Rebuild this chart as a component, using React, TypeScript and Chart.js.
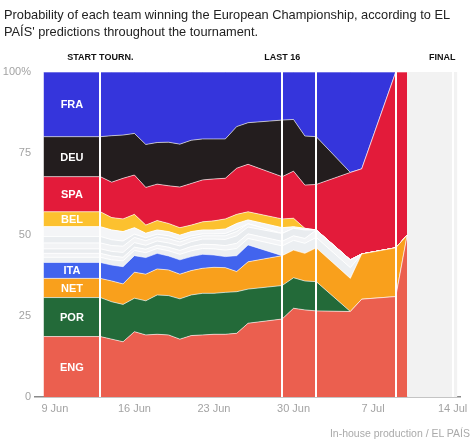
import { useEffect, useRef } from "react";
import { Chart, registerables } from "chart.js";

Chart.register(...registerables);

const FONT = '"Liberation Sans", Arial, sans-serif';

// Days counted from 9 June 2024 (day 0); the first point opens the pre-tournament block
const days = [-1, 4, 5, 6, 7, 8, 9, 10, 11, 12, 13, 14, 15, 16, 17, 20, 21, 22, 23, 26, 27, 30, 31];

const tickDays = [0, 7, 14, 21, 28, 35];
const tickLabels = ["9 Jun", "16 Jun", "23 Jun", "30 Jun", "7 Jul", "14 Jul"];

// Stage boundaries and their captions
const stageDays = [4, 20, 23, 30, 35];
const stageLabelDays = [4, 20, 35];
const stageLabels = ["START TOURN.", "LAST 16", "FINAL"];
const pendingDays = [31, 35.4];

// Probability of winning the tournament (%), one value per entry of `days`
const eng = [18.6, 18.6, 17.8, 17.0, 20.1, 19.1, 19.3, 19.1, 17.8, 18.9, 19.1, 19.3, 19.3, 19.6, 22.7, 24.0, 27.3, 26.8, 26.5, 26.3, 30.1, 30.9, 49.8];
const por = [12.0, 12.0, 11.5, 11.5, 10.3, 10.5, 12.1, 12.1, 12.4, 12.5, 12.8, 12.6, 12.9, 12.8, 10.5, 10.3, 9.4, 8.9, 9.0, 0, 0, 0, 0];
const net = [5.9, 5.9, 6.4, 6.3, 8.0, 8.2, 8.0, 7.9, 7.6, 7.5, 7.7, 8.0, 7.6, 6.2, 8.4, 9.2, 8.5, 8.5, 10.4, 10.2, 13.9, 15.0, 0];
const ita = [4.9, 4.9, 4.9, 5.3, 5.1, 5.1, 4.8, 4.3, 4.4, 4.3, 4.3, 3.8, 3.4, 4.9, 5.2, 0, 0, 0, 0, 0, 0, 0, 0];
const sui = [1.6, 1.6, 1.6, 1.8, 1.6, 1.5, 1.5, 1.6, 1.7, 1.8, 1.8, 1.9, 2.0, 2.2, 2.0, 3.0, 3.0, 3.1, 3.2, 3.3, 0, 0, 0];
const tur = [1.2, 1.2, 1.2, 1.1, 1.0, 1.1, 1.0, 1.1, 1.2, 1.3, 1.3, 1.3, 1.4, 1.6, 1.4, 1.4, 1.4, 1.5, 2.3, 2.4, 0, 0, 0];
const aut = [1.4, 1.4, 1.4, 1.5, 1.4, 1.2, 1.3, 1.3, 1.4, 1.5, 1.6, 1.7, 1.9, 2.3, 2.1, 2.4, 2.3, 2.6, 0, 0, 0, 0, 0];
const den = [1.8, 1.8, 1.8, 1.9, 1.6, 1.4, 1.3, 1.3, 1.2, 1.1, 1.0, 1.0, 1.1, 1.3, 1.0, 0, 0, 0, 0, 0, 0, 0, 0];
const cro = [2.0, 2.0, 1.8, 1.6, 1.0, 0.9, 0.8, 0.9, 0.8, 0.7, 0.6, 0.6, 0.7, 0.8, 0, 0, 0, 0, 0, 0, 0, 0, 0];
const rest = [3.0, 3.0, 3.0, 2.9, 2.0, 1.4, 1.3, 1.3, 1.3, 1.3, 1.2, 1.2, 1.4, 1.7, 1.2, 1.8, 0.5, 0.5, 0, 0, 0, 0, 0];
const bel = [4.6, 4.6, 3.8, 3.9, 4.1, 2.5, 2.9, 2.5, 2.3, 2.0, 2.5, 2.8, 3.1, 2.8, 2.5, 2.7, 2.6, 0, 0, 0, 0, 0, 0];
const spa = [10.8, 10.8, 10.9, 12.5, 12.1, 11.6, 11.2, 11.6, 12.5, 12.8, 12.9, 12.9, 12.5, 14.2, 14.6, 13.0, 14.5, 13.3, 14.0, 26.9, 26.2, 54.1, 50.2];
const deu = [12.3, 12.3, 14.3, 13.3, 12.8, 13.2, 12.8, 13.4, 13.2, 13.3, 12.6, 12.3, 12.1, 12.8, 12.8, 17.4, 15.9, 15.1, 14.7, 0, 0, 0, 0];
const fra = [19.9, 19.9, 19.6, 19.4, 18.9, 22.3, 21.7, 21.6, 22.2, 21.0, 20.6, 20.6, 20.6, 16.8, 15.6, 14.8, 14.6, 19.7, 19.9, 30.9, 29.8, 0, 0];

// Stacking order, bottom to top
const series = [
  { code: "ENG", data: eng },
  { code: "POR", data: por },
  { code: "NET", data: net },
  { code: "ITA", data: ita },
  { code: "SUI", data: sui },
  { code: "TUR", data: tur },
  { code: "AUT", data: aut },
  { code: "DEN", data: den },
  { code: "CRO", data: cro },
  { code: "OTH", data: rest },
  { code: "BEL", data: bel },
  { code: "SPA", data: spa },
  { code: "DEU", data: deu },
  { code: "FRA", data: fra },
];

const labelledTeams = ["ENG", "POR", "NET", "ITA", "BEL", "SPA", "DEU", "FRA"];

const teamColors: Record<string, string> = {
  ENG: "#eb5f4f",
  POR: "#236a39",
  NET: "#f9a01c",
  ITA: "#4264ee",
  SUI: "#eceff2",
  TUR: "#f3f4f6",
  AUT: "#e9ecef",
  DEN: "#f2f3f5",
  CRO: "#eaedf0",
  OTH: "#f4f5f7",
  BEL: "#fcc12f",
  SPA: "#e31b3a",
  DEU: "#231d1e",
  FRA: "#3535dc",
};

const stagePlugin = {
  id: "stages",
  beforeDatasetsDraw(chart: any) {
    const { ctx, chartArea, scales } = chart;
    const x = scales.x;
    const x0 = x.getPixelForValue(pendingDays[0]);
    const x1 = x.getPixelForValue(pendingDays[1]);
    ctx.save();
    ctx.fillStyle = "#f2f2f2";
    ctx.fillRect(x0, chartArea.top, x1 - x0, chartArea.bottom - chartArea.top);
    ctx.restore();
  },
  afterDatasetsDraw(chart: any) {
    const { ctx, chartArea, scales } = chart;
    const x = scales.x;
    const y = scales.y;
    ctx.save();

    // stage separators
    ctx.strokeStyle = "#ffffff";
    ctx.lineWidth = 2;
    stageDays.forEach((d) => {
      const px = Math.round(x.getPixelForValue(d));
      ctx.beginPath();
      ctx.moveTo(px, chartArea.top);
      ctx.lineTo(px, chartArea.bottom);
      ctx.stroke();
    });

    // team codes inside the opening block
    ctx.font = `bold 11px ${FONT}`;
    ctx.fillStyle = "#ffffff";
    ctx.textAlign = "center";
    ctx.textBaseline = "middle";
    const cx = x.getPixelForValue((days[0] + days[1]) / 2);
    let base = 0;
    series.forEach((s) => {
      const v = s.data[0];
      if (labelledTeams.includes(s.code)) {
        ctx.fillText(s.code, cx, y.getPixelForValue(base + v / 2) + 1);
      }
      base += v;
    });

    // stage captions above the plot
    ctx.font = `bold 9px ${FONT}`;
    ctx.fillStyle = "#111111";
    stageLabelDays.forEach((d, i) => {
      const px = x.getPixelForValue(d);
      const last = i === stageLabelDays.length - 1;
      ctx.textAlign = last ? "right" : "center";
      ctx.fillText(stageLabels[i], last ? px + 3 : px, chartArea.top - 14);
    });
    ctx.restore();
  },
};

export default function App() {
  const canvasRef = useRef<HTMLCanvasElement | null>(null);

  useEffect(() => {
    if (!canvasRef.current) return;
    Chart.defaults.font.family = FONT;

    const datasets = series.map((s, i) => {
      const isLabelled = labelledTeams.includes(s.code);
      return {
        label: s.code,
        data: s.data.map((v, k) => ({ x: days[k], y: v })),
        backgroundColor: teamColors[s.code],
        borderColor: isLabelled ? "rgba(255,255,255,0.6)" : "rgba(255,255,255,0.9)",
        borderWidth: 1,
        fill: i === 0 ? "origin" : "-1",
        pointRadius: 0,
        tension: 0,
      };
    });

    const chart = new Chart(canvasRef.current, {
      type: "line",
      data: { datasets },
      options: {
        responsive: false,
        animation: false,
        events: [],
        layout: { padding: { top: 72, right: 14, bottom: 0, left: 0 } },
        plugins: {
          legend: { display: false },
          tooltip: { enabled: false },
        },
        scales: {
          x: {
            type: "linear",
            min: -1.75,
            max: 35.65,
            grid: { display: false, drawTicks: false },
            border: { display: true, color: "#8a8a8a", width: 1.5 },
            afterBuildTicks: (scale: any) => {
              scale.ticks = tickDays.map((v) => ({ value: v }));
            },
            afterFit: (scale: any) => {
              scale.height = 49;
            },
            ticks: {
              autoSkip: false,
              maxRotation: 0,
              padding: 5,
              color: "#a3a3a3",
              font: { size: 11, family: FONT },
              callback: (value: any) => {
                const idx = tickDays.indexOf(Number(value));
                return idx >= 0 ? tickLabels[idx] : "";
              },
            },
          },
          y: {
            type: "linear",
            stacked: true,
            min: 0,
            max: 100,
            grid: { display: false, drawTicks: false },
            border: { display: false },
            afterFit: (scale: any) => {
              scale.width = 35;
            },
            ticks: {
              stepSize: 25,
              padding: 4,
              color: "#a3a3a3",
              font: { size: 11, family: FONT },
              callback: (value: any) => (Number(value) === 100 ? "100%" : String(value)),
            },
          },
        },
      },
      plugins: [stagePlugin],
    } as any);

    return () => chart.destroy();
  }, []);

  return (
    <div
      style={{
        position: "absolute",
        left: 0,
        top: 0,
        width: 474,
        height: 446,
        background: "#ffffff",
        fontFamily: FONT,
        overflow: "hidden",
      }}
    >
      <canvas ref={canvasRef} width={474} height={446} style={{ position: "absolute", left: 0, top: 0 }} />
      <div
        style={{
          position: "absolute",
          left: 4,
          top: 7,
          fontSize: 12.8,
          lineHeight: "16.6px",
          color: "#222222",
          whiteSpace: "nowrap",
        }}
      >
        Probability of each team winning the European Championship, according to EL
        <br />
        PAÍS' predictions throughout the tournament.
      </div>
      <div
        style={{
          position: "absolute",
          right: 4,
          top: 427,
          fontSize: 10.5,
          lineHeight: "12px",
          color: "#aaaaaa",
          whiteSpace: "nowrap",
        }}
      >
        In-house production / EL PAÍS
      </div>
    </div>
  );
}
